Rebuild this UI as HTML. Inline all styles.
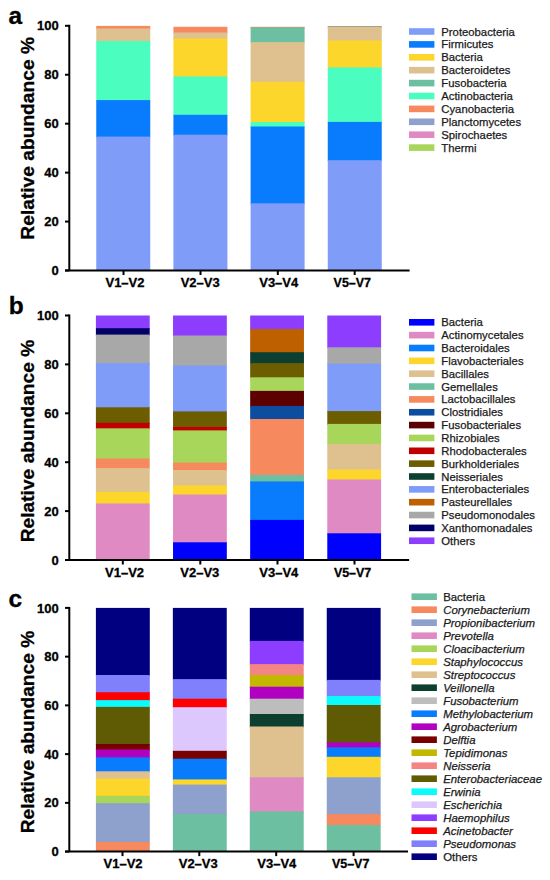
<!DOCTYPE html><html><head><meta charset="utf-8"><style>html,body{margin:0;padding:0;background:#fff;width:550px;height:880px;overflow:hidden}svg{display:block}</style></head><body>
<svg width="550" height="880" viewBox="0 0 550 880" font-family='"Liberation Sans", sans-serif'>
<rect x="96.25" y="25.90" width="54.00" height="3.60" fill="#f7895f"/>
<rect x="96.25" y="28.50" width="54.00" height="13.50" fill="#dfc18f"/>
<rect x="96.25" y="41.00" width="54.00" height="60.10" fill="#4cfdc0"/>
<rect x="96.25" y="100.10" width="54.00" height="37.50" fill="#087cfc"/>
<rect x="96.25" y="136.60" width="54.00" height="133.90" fill="#7f9cf9"/>
<rect x="173.42" y="26.80" width="54.00" height="6.70" fill="#f7895f"/>
<rect x="173.42" y="32.50" width="54.00" height="7.00" fill="#dfc18f"/>
<rect x="173.42" y="38.50" width="54.00" height="38.90" fill="#fdd62c"/>
<rect x="173.42" y="76.40" width="54.00" height="39.40" fill="#4cfdc0"/>
<rect x="173.42" y="114.80" width="54.00" height="20.90" fill="#087cfc"/>
<rect x="173.42" y="134.70" width="54.00" height="135.80" fill="#7f9cf9"/>
<rect x="250.59" y="26.80" width="54.00" height="1.50" fill="#f7895f"/>
<rect x="250.59" y="27.30" width="54.00" height="15.80" fill="#6cbfa1"/>
<rect x="250.59" y="42.10" width="54.00" height="40.70" fill="#dfc18f"/>
<rect x="250.59" y="81.80" width="54.00" height="41.20" fill="#fdd62c"/>
<rect x="250.59" y="122.00" width="54.00" height="5.50" fill="#4cfdc0"/>
<rect x="250.59" y="126.50" width="54.00" height="77.80" fill="#087cfc"/>
<rect x="250.59" y="203.30" width="54.00" height="67.20" fill="#7f9cf9"/>
<rect x="327.76" y="26.10" width="54.00" height="1.90" fill="#9a9a80"/>
<rect x="327.76" y="27.00" width="54.00" height="14.50" fill="#dfc18f"/>
<rect x="327.76" y="40.50" width="54.00" height="27.90" fill="#fdd62c"/>
<rect x="327.76" y="67.40" width="54.00" height="55.50" fill="#4cfdc0"/>
<rect x="327.76" y="121.90" width="54.00" height="39.30" fill="#087cfc"/>
<rect x="327.76" y="160.20" width="54.00" height="110.30" fill="#7f9cf9"/>
<line x1="69.3" y1="24.80" x2="69.3" y2="270.50" stroke="#000" stroke-width="2.0"/>
<line x1="65.0" y1="270.50" x2="409.6" y2="270.50" stroke="#000" stroke-width="2.0"/>
<line x1="65.0" y1="270.50" x2="69.3" y2="270.50" stroke="#000" stroke-width="2.0"/>
<text x="58.8" y="275.10" font-size="13" font-weight="bold" stroke="#000" stroke-width="0.3" text-anchor="end">0</text>
<line x1="65.0" y1="221.56" x2="69.3" y2="221.56" stroke="#000" stroke-width="2.0"/>
<text x="58.8" y="226.16" font-size="13" font-weight="bold" stroke="#000" stroke-width="0.3" text-anchor="end">20</text>
<line x1="65.0" y1="172.62" x2="69.3" y2="172.62" stroke="#000" stroke-width="2.0"/>
<text x="58.8" y="177.22" font-size="13" font-weight="bold" stroke="#000" stroke-width="0.3" text-anchor="end">40</text>
<line x1="65.0" y1="123.68" x2="69.3" y2="123.68" stroke="#000" stroke-width="2.0"/>
<text x="58.8" y="128.28" font-size="13" font-weight="bold" stroke="#000" stroke-width="0.3" text-anchor="end">60</text>
<line x1="65.0" y1="74.74" x2="69.3" y2="74.74" stroke="#000" stroke-width="2.0"/>
<text x="58.8" y="79.34" font-size="13" font-weight="bold" stroke="#000" stroke-width="0.3" text-anchor="end">80</text>
<line x1="65.0" y1="25.80" x2="69.3" y2="25.80" stroke="#000" stroke-width="2.0"/>
<text x="58.8" y="30.40" font-size="13" font-weight="bold" stroke="#000" stroke-width="0.3" text-anchor="end">100</text>
<line x1="123.50" y1="270.50" x2="123.50" y2="275.00" stroke="#000" stroke-width="2.0"/>
<text x="125.00" y="287.00" font-size="13" font-weight="bold" stroke="#000" stroke-width="0.3" text-anchor="middle">V1–V2</text>
<line x1="200.50" y1="270.50" x2="200.50" y2="275.00" stroke="#000" stroke-width="2.0"/>
<text x="200.15" y="287.00" font-size="13" font-weight="bold" stroke="#000" stroke-width="0.3" text-anchor="middle">V2–V3</text>
<line x1="277.80" y1="270.50" x2="277.80" y2="275.00" stroke="#000" stroke-width="2.0"/>
<text x="278.75" y="287.00" font-size="13" font-weight="bold" stroke="#000" stroke-width="0.3" text-anchor="middle">V3–V4</text>
<line x1="354.70" y1="270.50" x2="354.70" y2="275.00" stroke="#000" stroke-width="2.0"/>
<text x="352.30" y="287.00" font-size="13" font-weight="bold" stroke="#000" stroke-width="0.3" text-anchor="middle" textLength="37.4" lengthAdjust="spacingAndGlyphs">V5–V7</text>
<text transform="translate(33.8,138.35) rotate(-90)" font-size="19.2" font-weight="bold" stroke="#000" stroke-width="0.3" text-anchor="middle">Relative abundance %</text>
<text x="8.50" y="24.00" font-size="24.5" font-weight="bold" stroke="#000" stroke-width="0.3">a</text>
<rect x="409" y="28.20" width="25.4" height="6.6" fill="#7f9cf9"/>
<text x="441.30" y="35.50" font-size="11.3" fill="#1a1a1a" stroke="#1a1a1a" stroke-width="0.25">Proteobacteria</text>
<rect x="409" y="41.10" width="25.4" height="6.6" fill="#087cfc"/>
<text x="441.30" y="48.40" font-size="11.3" fill="#1a1a1a" stroke="#1a1a1a" stroke-width="0.25">Firmicutes</text>
<rect x="409" y="54.00" width="25.4" height="6.6" fill="#fdd62c"/>
<text x="441.30" y="61.30" font-size="11.3" fill="#1a1a1a" stroke="#1a1a1a" stroke-width="0.25">Bacteria</text>
<rect x="409" y="66.90" width="25.4" height="6.6" fill="#dfc18f"/>
<text x="441.30" y="74.20" font-size="11.3" fill="#1a1a1a" stroke="#1a1a1a" stroke-width="0.25">Bacteroidetes</text>
<rect x="409" y="79.80" width="25.4" height="6.6" fill="#6cbfa1"/>
<text x="441.30" y="87.10" font-size="11.3" fill="#1a1a1a" stroke="#1a1a1a" stroke-width="0.25">Fusobacteria</text>
<rect x="409" y="92.70" width="25.4" height="6.6" fill="#4cfdc0"/>
<text x="441.30" y="100.00" font-size="11.3" fill="#1a1a1a" stroke="#1a1a1a" stroke-width="0.25">Actinobacteria</text>
<rect x="409" y="105.60" width="25.4" height="6.6" fill="#f7895f"/>
<text x="441.30" y="112.90" font-size="11.3" fill="#1a1a1a" stroke="#1a1a1a" stroke-width="0.25">Cyanobacteria</text>
<rect x="409" y="118.50" width="25.4" height="6.6" fill="#8ea0cc"/>
<text x="441.30" y="125.80" font-size="11.3" fill="#1a1a1a" stroke="#1a1a1a" stroke-width="0.25">Planctomycetes</text>
<rect x="409" y="131.40" width="25.4" height="6.6" fill="#e08ac4"/>
<text x="441.30" y="138.70" font-size="11.3" fill="#1a1a1a" stroke="#1a1a1a" stroke-width="0.25">Spirochaetes</text>
<rect x="409" y="144.30" width="25.4" height="6.6" fill="#a7d65a"/>
<text x="441.30" y="151.60" font-size="11.3" fill="#1a1a1a" stroke="#1a1a1a" stroke-width="0.25">Thermi</text>
<rect x="95.90" y="315.50" width="53.80" height="13.70" fill="#8c3dfe"/>
<rect x="95.90" y="328.20" width="53.80" height="7.40" fill="#000066"/>
<rect x="95.90" y="334.60" width="53.80" height="29.50" fill="#a8a8a8"/>
<rect x="95.90" y="363.10" width="53.80" height="45.20" fill="#7f9cf9"/>
<rect x="95.90" y="407.30" width="53.80" height="16.50" fill="#6b5d00"/>
<rect x="95.90" y="422.80" width="53.80" height="6.50" fill="#c00000"/>
<rect x="95.90" y="428.30" width="53.80" height="31.20" fill="#a7d65a"/>
<rect x="95.90" y="458.50" width="53.80" height="10.60" fill="#f7895f"/>
<rect x="95.90" y="468.10" width="53.80" height="24.70" fill="#dfc18f"/>
<rect x="95.90" y="491.80" width="53.80" height="12.70" fill="#fdd62c"/>
<rect x="95.90" y="503.50" width="53.80" height="56.50" fill="#e08ac4"/>
<rect x="173.03" y="315.50" width="53.80" height="21.00" fill="#8c3dfe"/>
<rect x="173.03" y="335.50" width="53.80" height="31.00" fill="#a8a8a8"/>
<rect x="173.03" y="365.50" width="53.80" height="46.90" fill="#7f9cf9"/>
<rect x="173.03" y="411.40" width="53.80" height="16.60" fill="#6b5d00"/>
<rect x="173.03" y="427.00" width="53.80" height="4.40" fill="#c00000"/>
<rect x="173.03" y="430.40" width="53.80" height="33.20" fill="#a7d65a"/>
<rect x="173.03" y="462.60" width="53.80" height="8.40" fill="#f7895f"/>
<rect x="173.03" y="470.00" width="53.80" height="16.50" fill="#dfc18f"/>
<rect x="173.03" y="485.50" width="53.80" height="10.00" fill="#fdd62c"/>
<rect x="173.03" y="494.50" width="53.80" height="48.80" fill="#e08ac4"/>
<rect x="173.03" y="542.30" width="53.80" height="17.70" fill="#0000fe"/>
<rect x="250.16" y="315.50" width="53.80" height="14.50" fill="#8c3dfe"/>
<rect x="250.16" y="329.00" width="53.80" height="24.20" fill="#bf6000"/>
<rect x="250.16" y="352.20" width="53.80" height="11.90" fill="#0d3f30"/>
<rect x="250.16" y="363.10" width="53.80" height="15.20" fill="#6b5d00"/>
<rect x="250.16" y="377.30" width="53.80" height="14.60" fill="#a7d65a"/>
<rect x="250.16" y="390.90" width="53.80" height="16.00" fill="#5c0000"/>
<rect x="250.16" y="405.90" width="53.80" height="14.10" fill="#0d4da0"/>
<rect x="250.16" y="419.00" width="53.80" height="56.90" fill="#f7895f"/>
<rect x="250.16" y="474.90" width="53.80" height="7.50" fill="#6cbfa1"/>
<rect x="250.16" y="481.40" width="53.80" height="39.50" fill="#087cfc"/>
<rect x="250.16" y="519.90" width="53.80" height="40.10" fill="#0000fe"/>
<rect x="327.29" y="315.50" width="53.80" height="32.80" fill="#8c3dfe"/>
<rect x="327.29" y="347.30" width="53.80" height="17.30" fill="#a8a8a8"/>
<rect x="327.29" y="363.60" width="53.80" height="48.50" fill="#7f9cf9"/>
<rect x="327.29" y="411.10" width="53.80" height="13.80" fill="#6b5d00"/>
<rect x="327.29" y="423.90" width="53.80" height="21.00" fill="#a7d65a"/>
<rect x="327.29" y="443.90" width="53.80" height="26.60" fill="#dfc18f"/>
<rect x="327.29" y="469.50" width="53.80" height="11.00" fill="#fdd62c"/>
<rect x="327.29" y="479.50" width="53.80" height="54.80" fill="#e08ac4"/>
<rect x="327.29" y="533.30" width="53.80" height="26.70" fill="#0000fe"/>
<line x1="69.3" y1="314.50" x2="69.3" y2="560.00" stroke="#000" stroke-width="2.0"/>
<line x1="65.0" y1="560.00" x2="409.1" y2="560.00" stroke="#000" stroke-width="2.0"/>
<line x1="65.0" y1="560.00" x2="69.3" y2="560.00" stroke="#000" stroke-width="2.0"/>
<text x="58.8" y="564.60" font-size="13" font-weight="bold" stroke="#000" stroke-width="0.3" text-anchor="end">0</text>
<line x1="65.0" y1="511.10" x2="69.3" y2="511.10" stroke="#000" stroke-width="2.0"/>
<text x="58.8" y="515.70" font-size="13" font-weight="bold" stroke="#000" stroke-width="0.3" text-anchor="end">20</text>
<line x1="65.0" y1="462.20" x2="69.3" y2="462.20" stroke="#000" stroke-width="2.0"/>
<text x="58.8" y="466.80" font-size="13" font-weight="bold" stroke="#000" stroke-width="0.3" text-anchor="end">40</text>
<line x1="65.0" y1="413.30" x2="69.3" y2="413.30" stroke="#000" stroke-width="2.0"/>
<text x="58.8" y="417.90" font-size="13" font-weight="bold" stroke="#000" stroke-width="0.3" text-anchor="end">60</text>
<line x1="65.0" y1="364.40" x2="69.3" y2="364.40" stroke="#000" stroke-width="2.0"/>
<text x="58.8" y="369.00" font-size="13" font-weight="bold" stroke="#000" stroke-width="0.3" text-anchor="end">80</text>
<line x1="65.0" y1="315.50" x2="69.3" y2="315.50" stroke="#000" stroke-width="2.0"/>
<text x="58.8" y="320.10" font-size="13" font-weight="bold" stroke="#000" stroke-width="0.3" text-anchor="end">100</text>
<line x1="122.80" y1="560.00" x2="122.80" y2="564.50" stroke="#000" stroke-width="2.0"/>
<text x="124.60" y="576.50" font-size="13" font-weight="bold" stroke="#000" stroke-width="0.3" text-anchor="middle">V1–V2</text>
<line x1="200.30" y1="560.00" x2="200.30" y2="564.50" stroke="#000" stroke-width="2.0"/>
<text x="199.85" y="576.50" font-size="13" font-weight="bold" stroke="#000" stroke-width="0.3" text-anchor="middle">V2–V3</text>
<line x1="277.50" y1="560.00" x2="277.50" y2="564.50" stroke="#000" stroke-width="2.0"/>
<text x="278.85" y="576.50" font-size="13" font-weight="bold" stroke="#000" stroke-width="0.3" text-anchor="middle">V3–V4</text>
<line x1="354.50" y1="560.00" x2="354.50" y2="564.50" stroke="#000" stroke-width="2.0"/>
<text x="352.60" y="576.50" font-size="13" font-weight="bold" stroke="#000" stroke-width="0.3" text-anchor="middle" textLength="37.4" lengthAdjust="spacingAndGlyphs">V5–V7</text>
<text transform="translate(33.8,441.00) rotate(-90)" font-size="19.2" font-weight="bold" stroke="#000" stroke-width="0.3" text-anchor="middle">Relative abundance %</text>
<text x="8.70" y="313.60" font-size="24.5" font-weight="bold" stroke="#000" stroke-width="0.3">b</text>
<rect x="409" y="319.00" width="25.4" height="6.6" fill="#0000fe"/>
<text x="441.30" y="326.30" font-size="11.3" fill="#1a1a1a" stroke="#1a1a1a" stroke-width="0.25">Bacteria</text>
<rect x="409" y="331.85" width="25.4" height="6.6" fill="#e08ac4"/>
<text x="441.30" y="339.15" font-size="11.3" fill="#1a1a1a" stroke="#1a1a1a" stroke-width="0.25">Actinomycetales</text>
<rect x="409" y="344.70" width="25.4" height="6.6" fill="#087cfc"/>
<text x="441.30" y="352.00" font-size="11.3" fill="#1a1a1a" stroke="#1a1a1a" stroke-width="0.25">Bacteroidales</text>
<rect x="409" y="357.55" width="25.4" height="6.6" fill="#fdd62c"/>
<text x="441.30" y="364.85" font-size="11.3" fill="#1a1a1a" stroke="#1a1a1a" stroke-width="0.25">Flavobacteriales</text>
<rect x="409" y="370.40" width="25.4" height="6.6" fill="#dfc18f"/>
<text x="441.30" y="377.70" font-size="11.3" fill="#1a1a1a" stroke="#1a1a1a" stroke-width="0.25">Bacillales</text>
<rect x="409" y="383.25" width="25.4" height="6.6" fill="#6cbfa1"/>
<text x="441.30" y="390.55" font-size="11.3" fill="#1a1a1a" stroke="#1a1a1a" stroke-width="0.25">Gemellales</text>
<rect x="409" y="396.10" width="25.4" height="6.6" fill="#f7895f"/>
<text x="441.30" y="403.40" font-size="11.3" fill="#1a1a1a" stroke="#1a1a1a" stroke-width="0.25">Lactobacillales</text>
<rect x="409" y="408.95" width="25.4" height="6.6" fill="#0d4da0"/>
<text x="441.30" y="416.25" font-size="11.3" fill="#1a1a1a" stroke="#1a1a1a" stroke-width="0.25">Clostridiales</text>
<rect x="409" y="421.80" width="25.4" height="6.6" fill="#5c0000"/>
<text x="441.30" y="429.10" font-size="11.3" fill="#1a1a1a" stroke="#1a1a1a" stroke-width="0.25">Fusobacteriales</text>
<rect x="409" y="434.65" width="25.4" height="6.6" fill="#a7d65a"/>
<text x="441.30" y="441.95" font-size="11.3" fill="#1a1a1a" stroke="#1a1a1a" stroke-width="0.25">Rhizobiales</text>
<rect x="409" y="447.50" width="25.4" height="6.6" fill="#c00000"/>
<text x="441.30" y="454.80" font-size="11.3" fill="#1a1a1a" stroke="#1a1a1a" stroke-width="0.25">Rhodobacterales</text>
<rect x="409" y="460.35" width="25.4" height="6.6" fill="#6b5d00"/>
<text x="441.30" y="467.65" font-size="11.3" fill="#1a1a1a" stroke="#1a1a1a" stroke-width="0.25">Burkholderiales</text>
<rect x="409" y="473.20" width="25.4" height="6.6" fill="#0d3f30"/>
<text x="441.30" y="480.50" font-size="11.3" fill="#1a1a1a" stroke="#1a1a1a" stroke-width="0.25">Neisseriales</text>
<rect x="409" y="486.05" width="25.4" height="6.6" fill="#7f9cf9"/>
<text x="441.30" y="493.35" font-size="11.3" fill="#1a1a1a" stroke="#1a1a1a" stroke-width="0.25">Enterobacteriales</text>
<rect x="409" y="498.90" width="25.4" height="6.6" fill="#bf6000"/>
<text x="441.30" y="506.20" font-size="11.3" fill="#1a1a1a" stroke="#1a1a1a" stroke-width="0.25">Pasteurellales</text>
<rect x="409" y="511.75" width="25.4" height="6.6" fill="#a8a8a8"/>
<text x="441.30" y="519.05" font-size="11.3" fill="#1a1a1a" stroke="#1a1a1a" stroke-width="0.25">Pseudomonodales</text>
<rect x="409" y="524.60" width="25.4" height="6.6" fill="#000066"/>
<text x="441.30" y="531.90" font-size="11.3" fill="#1a1a1a" stroke="#1a1a1a" stroke-width="0.25">Xanthomonadales</text>
<rect x="409" y="537.45" width="25.4" height="6.6" fill="#8c3dfe"/>
<text x="441.30" y="544.75" font-size="11.3" fill="#1a1a1a" stroke="#1a1a1a" stroke-width="0.25">Others</text>
<rect x="95.90" y="607.90" width="53.90" height="68.10" fill="#000080"/>
<rect x="95.90" y="675.00" width="53.90" height="18.20" fill="#8080fc"/>
<rect x="95.90" y="692.20" width="53.90" height="8.90" fill="#fe0000"/>
<rect x="95.90" y="700.10" width="53.90" height="7.80" fill="#0cfafa"/>
<rect x="95.90" y="706.90" width="53.90" height="38.10" fill="#5f5a04"/>
<rect x="95.90" y="744.00" width="53.90" height="6.50" fill="#780000"/>
<rect x="95.90" y="749.50" width="53.90" height="8.90" fill="#b000c0"/>
<rect x="95.90" y="757.40" width="53.90" height="14.90" fill="#087cfc"/>
<rect x="95.90" y="771.30" width="53.90" height="8.30" fill="#dfc18f"/>
<rect x="95.90" y="778.60" width="53.90" height="18.20" fill="#fdd62c"/>
<rect x="95.90" y="795.80" width="53.90" height="8.40" fill="#a7d65a"/>
<rect x="95.90" y="803.20" width="53.90" height="39.70" fill="#8ea0cc"/>
<rect x="95.90" y="841.90" width="53.90" height="9.70" fill="#f7895f"/>
<rect x="172.85" y="607.90" width="53.90" height="72.20" fill="#000080"/>
<rect x="172.85" y="679.10" width="53.90" height="20.60" fill="#8080fc"/>
<rect x="172.85" y="698.70" width="53.90" height="9.50" fill="#fe0000"/>
<rect x="172.85" y="707.20" width="53.90" height="44.60" fill="#dcc8fc"/>
<rect x="172.85" y="750.80" width="53.90" height="8.90" fill="#780000"/>
<rect x="172.85" y="758.70" width="53.90" height="21.70" fill="#087cfc"/>
<rect x="172.85" y="779.40" width="53.90" height="6.20" fill="#fdd62c"/>
<rect x="172.85" y="784.60" width="53.90" height="30.50" fill="#8ea0cc"/>
<rect x="172.85" y="814.10" width="53.90" height="37.50" fill="#6cbfa1"/>
<rect x="249.80" y="607.90" width="53.90" height="34.00" fill="#000080"/>
<rect x="249.80" y="640.90" width="53.90" height="24.20" fill="#8c3dfe"/>
<rect x="249.80" y="664.10" width="53.90" height="11.90" fill="#f38585"/>
<rect x="249.80" y="675.00" width="53.90" height="12.70" fill="#c2b800"/>
<rect x="249.80" y="686.70" width="53.90" height="13.00" fill="#b000c0"/>
<rect x="249.80" y="698.70" width="53.90" height="16.30" fill="#bdbdbd"/>
<rect x="249.80" y="714.00" width="53.90" height="13.50" fill="#0d3f30"/>
<rect x="249.80" y="726.50" width="53.90" height="51.80" fill="#dfc18f"/>
<rect x="249.80" y="777.30" width="53.90" height="35.10" fill="#e08ac4"/>
<rect x="249.80" y="811.40" width="53.90" height="40.20" fill="#6cbfa1"/>
<rect x="326.75" y="607.90" width="53.90" height="73.00" fill="#000080"/>
<rect x="326.75" y="679.90" width="53.90" height="17.10" fill="#8080fc"/>
<rect x="326.75" y="696.00" width="53.90" height="10.00" fill="#0cfafa"/>
<rect x="326.75" y="705.00" width="53.90" height="38.40" fill="#5f5a04"/>
<rect x="326.75" y="742.40" width="53.90" height="5.90" fill="#b000c0"/>
<rect x="326.75" y="747.30" width="53.90" height="10.50" fill="#087cfc"/>
<rect x="326.75" y="756.80" width="53.90" height="21.50" fill="#fdd62c"/>
<rect x="326.75" y="777.30" width="53.90" height="37.80" fill="#8ea0cc"/>
<rect x="326.75" y="814.10" width="53.90" height="11.90" fill="#f7895f"/>
<rect x="326.75" y="825.00" width="53.90" height="26.60" fill="#6cbfa1"/>
<line x1="69.3" y1="606.90" x2="69.3" y2="851.60" stroke="#000" stroke-width="2.0"/>
<line x1="65.0" y1="851.60" x2="408.0" y2="851.60" stroke="#000" stroke-width="2.0"/>
<line x1="65.0" y1="851.60" x2="69.3" y2="851.60" stroke="#000" stroke-width="2.0"/>
<text x="58.8" y="856.20" font-size="13" font-weight="bold" stroke="#000" stroke-width="0.3" text-anchor="end">0</text>
<line x1="65.0" y1="802.86" x2="69.3" y2="802.86" stroke="#000" stroke-width="2.0"/>
<text x="58.8" y="807.46" font-size="13" font-weight="bold" stroke="#000" stroke-width="0.3" text-anchor="end">20</text>
<line x1="65.0" y1="754.12" x2="69.3" y2="754.12" stroke="#000" stroke-width="2.0"/>
<text x="58.8" y="758.72" font-size="13" font-weight="bold" stroke="#000" stroke-width="0.3" text-anchor="end">40</text>
<line x1="65.0" y1="705.38" x2="69.3" y2="705.38" stroke="#000" stroke-width="2.0"/>
<text x="58.8" y="709.98" font-size="13" font-weight="bold" stroke="#000" stroke-width="0.3" text-anchor="end">60</text>
<line x1="65.0" y1="656.64" x2="69.3" y2="656.64" stroke="#000" stroke-width="2.0"/>
<text x="58.8" y="661.24" font-size="13" font-weight="bold" stroke="#000" stroke-width="0.3" text-anchor="end">80</text>
<line x1="65.0" y1="607.90" x2="69.3" y2="607.90" stroke="#000" stroke-width="2.0"/>
<text x="58.8" y="612.50" font-size="13" font-weight="bold" stroke="#000" stroke-width="0.3" text-anchor="end">100</text>
<line x1="122.50" y1="851.60" x2="122.50" y2="856.10" stroke="#000" stroke-width="2.0"/>
<text x="123.05" y="868.10" font-size="13" font-weight="bold" stroke="#000" stroke-width="0.3" text-anchor="middle">V1–V2</text>
<line x1="199.30" y1="851.60" x2="199.30" y2="856.10" stroke="#000" stroke-width="2.0"/>
<text x="198.25" y="868.10" font-size="13" font-weight="bold" stroke="#000" stroke-width="0.3" text-anchor="middle">V2–V3</text>
<line x1="276.20" y1="851.60" x2="276.20" y2="856.10" stroke="#000" stroke-width="2.0"/>
<text x="276.85" y="868.10" font-size="13" font-weight="bold" stroke="#000" stroke-width="0.3" text-anchor="middle">V3–V4</text>
<line x1="353.60" y1="851.60" x2="353.60" y2="856.10" stroke="#000" stroke-width="2.0"/>
<text x="350.65" y="868.10" font-size="13" font-weight="bold" stroke="#000" stroke-width="0.3" text-anchor="middle" textLength="37.4" lengthAdjust="spacingAndGlyphs">V5–V7</text>
<text transform="translate(33.8,732.00) rotate(-90)" font-size="19.2" font-weight="bold" stroke="#000" stroke-width="0.3" text-anchor="middle">Relative abundance %</text>
<text x="8.60" y="607.00" font-size="24.5" font-weight="bold" stroke="#000" stroke-width="0.3">c</text>
<rect x="411.5" y="593.40" width="25.4" height="6.6" fill="#6cbfa1"/>
<text x="443.20" y="600.70" font-size="11.4" fill="#1a1a1a" stroke="#1a1a1a" stroke-width="0.25">Bacteria</text>
<rect x="411.5" y="606.40" width="25.4" height="6.6" fill="#f7895f"/>
<text x="443.20" y="613.70" font-size="11.4" fill="#1a1a1a" stroke="#1a1a1a" stroke-width="0.25" font-style="italic">Corynebacterium</text>
<rect x="411.5" y="619.40" width="25.4" height="6.6" fill="#8ea0cc"/>
<text x="443.20" y="626.70" font-size="11.4" fill="#1a1a1a" stroke="#1a1a1a" stroke-width="0.25" font-style="italic">Propionibacterium</text>
<rect x="411.5" y="632.40" width="25.4" height="6.6" fill="#e08ac4"/>
<text x="443.20" y="639.70" font-size="11.4" fill="#1a1a1a" stroke="#1a1a1a" stroke-width="0.25" font-style="italic">Prevotella</text>
<rect x="411.5" y="645.40" width="25.4" height="6.6" fill="#a7d65a"/>
<text x="443.20" y="652.70" font-size="11.4" fill="#1a1a1a" stroke="#1a1a1a" stroke-width="0.25" font-style="italic">Cloacibacterium</text>
<rect x="411.5" y="658.40" width="25.4" height="6.6" fill="#fdd62c"/>
<text x="443.20" y="665.70" font-size="11.4" fill="#1a1a1a" stroke="#1a1a1a" stroke-width="0.25" font-style="italic">Staphylococcus</text>
<rect x="411.5" y="671.40" width="25.4" height="6.6" fill="#dfc18f"/>
<text x="443.20" y="678.70" font-size="11.4" fill="#1a1a1a" stroke="#1a1a1a" stroke-width="0.25" font-style="italic">Streptococcus</text>
<rect x="411.5" y="684.40" width="25.4" height="6.6" fill="#0d3f30"/>
<text x="443.20" y="691.70" font-size="11.4" fill="#1a1a1a" stroke="#1a1a1a" stroke-width="0.25" font-style="italic">Veillonella</text>
<rect x="411.5" y="697.40" width="25.4" height="6.6" fill="#bdbdbd"/>
<text x="443.20" y="704.70" font-size="11.4" fill="#1a1a1a" stroke="#1a1a1a" stroke-width="0.25" font-style="italic">Fusobacterium</text>
<rect x="411.5" y="710.40" width="25.4" height="6.6" fill="#087cfc"/>
<text x="443.20" y="717.70" font-size="11.4" fill="#1a1a1a" stroke="#1a1a1a" stroke-width="0.25" font-style="italic">Methylobacterium</text>
<rect x="411.5" y="723.40" width="25.4" height="6.6" fill="#b000c0"/>
<text x="443.20" y="730.70" font-size="11.4" fill="#1a1a1a" stroke="#1a1a1a" stroke-width="0.25" font-style="italic">Agrobacterium</text>
<rect x="411.5" y="736.40" width="25.4" height="6.6" fill="#780000"/>
<text x="443.20" y="743.70" font-size="11.4" fill="#1a1a1a" stroke="#1a1a1a" stroke-width="0.25" font-style="italic">Delftia</text>
<rect x="411.5" y="749.40" width="25.4" height="6.6" fill="#c2b800"/>
<text x="443.20" y="756.70" font-size="11.4" fill="#1a1a1a" stroke="#1a1a1a" stroke-width="0.25" font-style="italic">Tepidimonas</text>
<rect x="411.5" y="762.40" width="25.4" height="6.6" fill="#f38585"/>
<text x="443.20" y="769.70" font-size="11.4" fill="#1a1a1a" stroke="#1a1a1a" stroke-width="0.25" font-style="italic">Neisseria</text>
<rect x="411.5" y="775.40" width="25.4" height="6.6" fill="#5f5a04"/>
<text x="443.20" y="782.70" font-size="11.4" fill="#1a1a1a" stroke="#1a1a1a" stroke-width="0.25" font-style="italic">Enterobacteriaceae</text>
<rect x="411.5" y="788.40" width="25.4" height="6.6" fill="#0cfafa"/>
<text x="443.20" y="795.70" font-size="11.4" fill="#1a1a1a" stroke="#1a1a1a" stroke-width="0.25" font-style="italic">Erwinia</text>
<rect x="411.5" y="801.40" width="25.4" height="6.6" fill="#dcc8fc"/>
<text x="443.20" y="808.70" font-size="11.4" fill="#1a1a1a" stroke="#1a1a1a" stroke-width="0.25" font-style="italic">Escherichia</text>
<rect x="411.5" y="814.40" width="25.4" height="6.6" fill="#8c3dfe"/>
<text x="443.20" y="821.70" font-size="11.4" fill="#1a1a1a" stroke="#1a1a1a" stroke-width="0.25" font-style="italic">Haemophilus</text>
<rect x="411.5" y="827.40" width="25.4" height="6.6" fill="#fe0000"/>
<text x="443.20" y="834.70" font-size="11.4" fill="#1a1a1a" stroke="#1a1a1a" stroke-width="0.25" font-style="italic">Acinetobacter</text>
<rect x="411.5" y="840.40" width="25.4" height="6.6" fill="#8080fc"/>
<text x="443.20" y="847.70" font-size="11.4" fill="#1a1a1a" stroke="#1a1a1a" stroke-width="0.25" font-style="italic">Pseudomonas</text>
<rect x="411.5" y="853.40" width="25.4" height="6.6" fill="#000080"/>
<text x="443.20" y="860.70" font-size="11.4" fill="#1a1a1a" stroke="#1a1a1a" stroke-width="0.25">Others</text>
</svg></body></html>
